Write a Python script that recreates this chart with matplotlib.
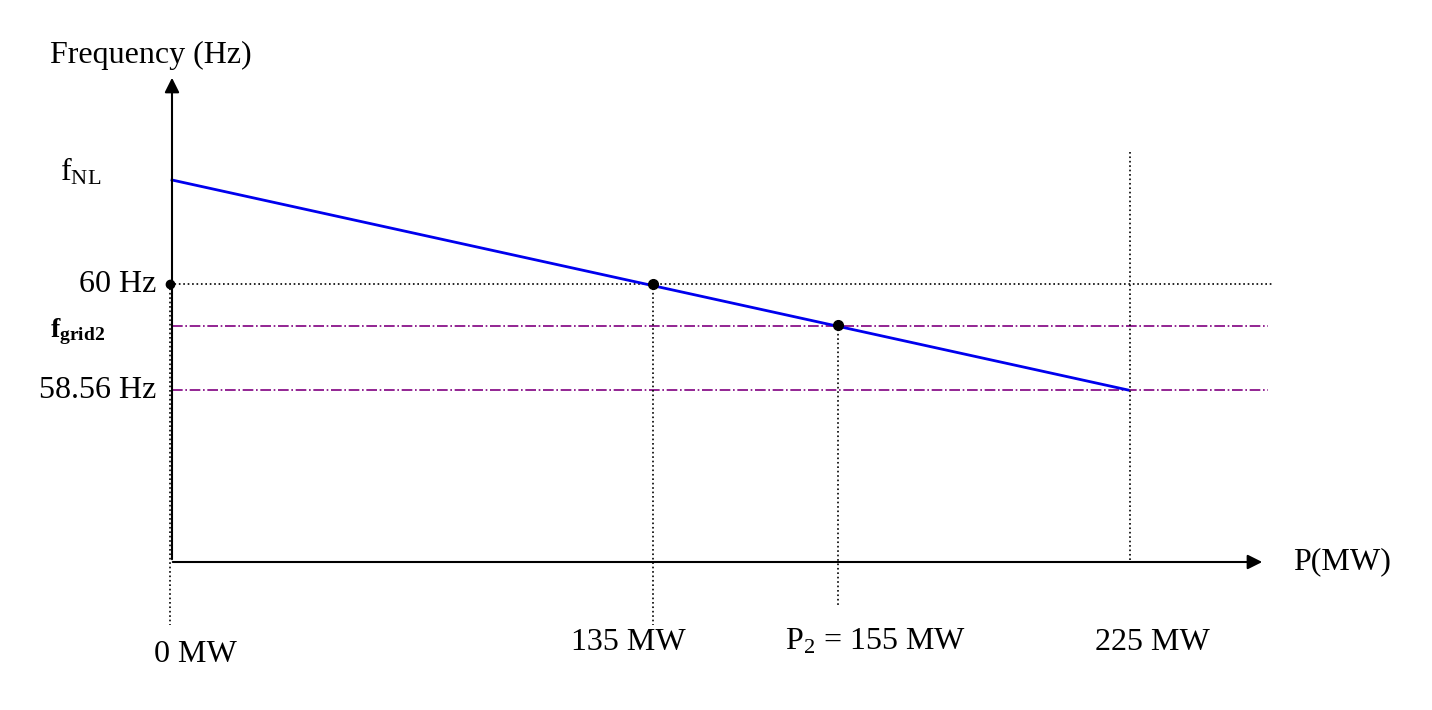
import matplotlib
matplotlib.use("Agg")
import matplotlib.pyplot as plt

plt.rcParams['font.family'] = ['Liberation Serif', 'DejaVu Serif']
plt.rcParams['mathtext.fontset'] = 'custom'
plt.rcParams['mathtext.rm'] = 'Liberation Serif'
plt.rcParams['mathtext.it'] = 'Liberation Serif:italic'
plt.rcParams['mathtext.bf'] = 'Liberation Serif:bold'

# Schematic positions (diagram is not to scale)
power_labels = ["0 MW", "135 MW", "P$_{\\mathrm{2}}$ = 155 MW", "225 MW"]
power_x = [170, 653, 838, 1130]
freq_labels = ["f$_{\\mathrm{NL}}$", "60 Hz", "$\\mathbf{f_{grid2}}$", "58.56 Hz"]
freq_y = [180, 284, 326, 390]
line_x = [172, 1128]
line_y = [180, 390]
pts_x = [653, 838]
pts_y = [284, 325]

fig = plt.figure(figsize=(14.32, 7.10), dpi=100)
ax = fig.add_axes([0, 0, 1, 1])
ax.set_xlim(0, 1432); ax.set_ylim(710, 0); ax.axis('off')

ax.annotate("", xy=(172, 75), xytext=(172, 562),
            arrowprops=dict(arrowstyle="-|>", color="black", lw=1.5, mutation_scale=22))
ax.annotate("", xy=(1265, 562), xytext=(170, 562),
            arrowprops=dict(arrowstyle="-|>", color="black", lw=1.5, mutation_scale=22))
ax.text(50, 55, "Frequency (Hz)", fontsize=23, va='center', ha='left')
ax.text(1293, 562, "P(MW)", fontsize=23, va='center', ha='left')

ax.plot([170, 1272], [284, 284], ls=':', color='black', lw=1.2)
ax.plot([172, 1268], [326, 326], ls='-.', color='#800080', lw=1.2)
ax.plot([172, 1268], [390, 390], ls='-.', color='#800080', lw=1.2)
ax.plot([170, 170], [284, 625], ls=':', color='black', lw=1.2)
ax.plot([653, 653], [284, 625], ls=':', color='black', lw=1.2)
ax.plot([838, 838], [325, 605], ls=':', color='black', lw=1.2)
ax.plot([1130, 1130], [152, 562], ls=':', color='black', lw=1.2)

ax.plot(line_x, line_y, color='#0000ee', lw=2)
ax.plot(pts_x, pts_y, 'o', color='black', ms=7)
ax.plot([170], [284], 'o', color='black', ms=6)

for lab, y in zip(freq_labels, freq_y):
    if "NL" in lab:
        ax.text(60, 172, lab, fontsize=23, va='center', ha='left')
    elif "grid" in lab:
        ax.text(50, 332, lab, fontsize=20, va='center', ha='left')
    else:
        ax.text(156, y, lab, fontsize=23, va='center', ha='right')

xlab_pos = [195, 628, 875, 1152]
for lab, x in zip(power_labels, xlab_pos):
    ax.text(x, 655 if lab == "0 MW" else 642, lab, fontsize=23, va='center', ha='center')

fig.savefig("out.png", dpi=100)
